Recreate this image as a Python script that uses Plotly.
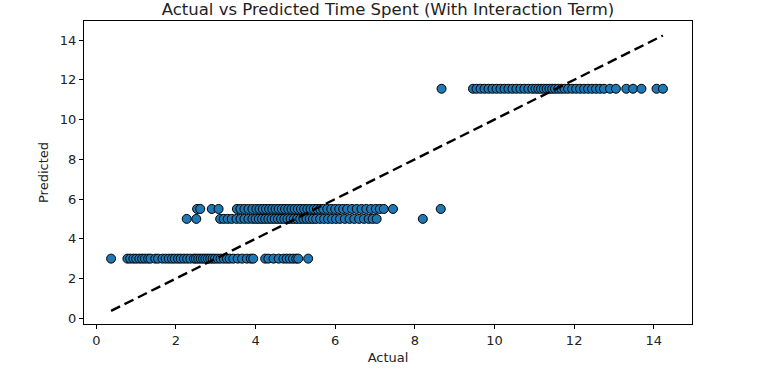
import plotly.graph_objects as go

# Predicted levels (model outputs) and actual values per level
pred_levels = [3.0, 5.0, 5.5, 11.55]

actual_at_3_0 = [0.37, 0.78, 0.85, 0.93, 1.0, 1.08, 1.15, 1.22, 1.3, 1.36, 1.48, 1.55, 1.66, 1.74,
                 1.82, 1.9, 1.97, 2.05, 2.12, 2.2, 2.28, 2.36, 2.45, 2.5, 2.56, 2.62, 2.68, 2.74,
                 2.8, 2.86, 2.92, 2.98, 3.05, 3.12, 3.2, 3.28, 3.35, 3.44, 3.55, 3.66, 3.78, 3.88,
                 3.94, 4.24, 4.32, 4.45, 4.58, 4.7, 4.78, 4.86, 4.94, 5.02, 5.07, 5.32]
actual_at_5_0 = [2.27, 2.51, 3.11, 3.2, 3.3, 3.4, 3.52, 3.62, 3.72, 3.82, 3.92, 4.0, 4.08, 4.16,
                 4.24, 4.32, 4.4, 4.48, 4.56, 4.64, 4.72, 4.8, 4.88, 4.96, 5.04, 5.12, 5.2, 5.28,
                 5.36, 5.44, 5.52, 5.62, 5.72, 5.82, 5.92, 6.02, 6.12, 6.24, 6.36, 6.48, 6.6, 6.72,
                 6.84, 6.94, 7.04, 8.2]
actual_at_5_5 = [2.53, 2.61, 2.9, 3.07, 3.53, 3.62, 3.72, 3.82, 3.92, 4.02, 4.1, 4.18, 4.26, 4.34,
                 4.42, 4.5, 4.58, 4.66, 4.74, 4.82, 4.9, 4.98, 5.06, 5.14, 5.22, 5.3, 5.38, 5.46,
                 5.54, 5.62, 5.7, 5.8, 5.9, 6.0, 6.1, 6.2, 6.3, 6.42, 6.54, 6.66, 6.78, 6.9, 7.02,
                 7.12, 7.22, 7.45, 8.65]
actual_at_11_55 = [8.67, 9.46, 9.55, 9.65, 9.75, 9.85, 9.95, 10.05, 10.15, 10.25, 10.35, 10.45,
                   10.55, 10.65, 10.75, 10.85, 10.95, 11.03, 11.1, 11.17, 11.24, 11.31, 11.38,
                   11.45, 11.52, 11.6, 11.68, 11.76, 11.85, 11.95, 12.05, 12.15, 12.25, 12.35,
                   12.45, 12.55, 12.65, 12.75, 12.9, 13.05, 13.31, 13.48, 13.69, 14.07, 14.23]

tick_values = [0, 2, 4, 6, 8, 10, 12, 14]

groups = [actual_at_3_0, actual_at_5_0, actual_at_5_5, actual_at_11_55]
actual = []
predicted = []
for lvl, grp in zip(pred_levels, groups):
    actual.extend(grp)
    predicted.extend([lvl] * len(grp))

lo, hi = min(actual), max(actual)

fig = go.Figure()
fig.add_trace(go.Scatter(
    x=actual, y=predicted, mode="markers",
    marker=dict(size=9, color="#1f77b4", line=dict(color="black", width=1)),
    showlegend=False,
))
fig.add_trace(go.Scatter(
    x=[lo, hi], y=[lo, hi], mode="lines",
    line=dict(color="black", width=2.4, dash="10px,5px"),
    showlegend=False,
))

font_family = "DejaVu Sans"
axis_common = dict(
    showline=True, linecolor="black", linewidth=1, mirror=True,
    ticks="outside", ticklen=4, tickwidth=1, tickcolor="black",
    showgrid=False, zeroline=False,
    tickvals=tick_values, tickfont=dict(family=font_family, size=13, color="#222"),
)

fig.update_layout(
    width=768, height=374,
    margin=dict(l=84, r=76, t=21, b=50),
    plot_bgcolor="white", paper_bgcolor="white",
    title=dict(text="Actual vs Predicted Time Spent (With Interaction Term)",
               x=(84 + 692) / 2 / 768, xanchor="center",
               y=1 - 9 / 374, yanchor="middle",
               font=dict(family=font_family, size=16.5, color="#222")),
    xaxis=dict(range=[-0.31, 14.96], title=dict(text="Actual", standoff=6,
               font=dict(family=font_family, size=13, color="#222")), **axis_common),
    yaxis=dict(range=[-0.29, 14.96], title=dict(text="Predicted", standoff=8,
               font=dict(family=font_family, size=13, color="#222")), **axis_common),
)

fig.write_html("out.html", config={"displayModeBar": False},
               post_script="document.body.style.margin='0';")
